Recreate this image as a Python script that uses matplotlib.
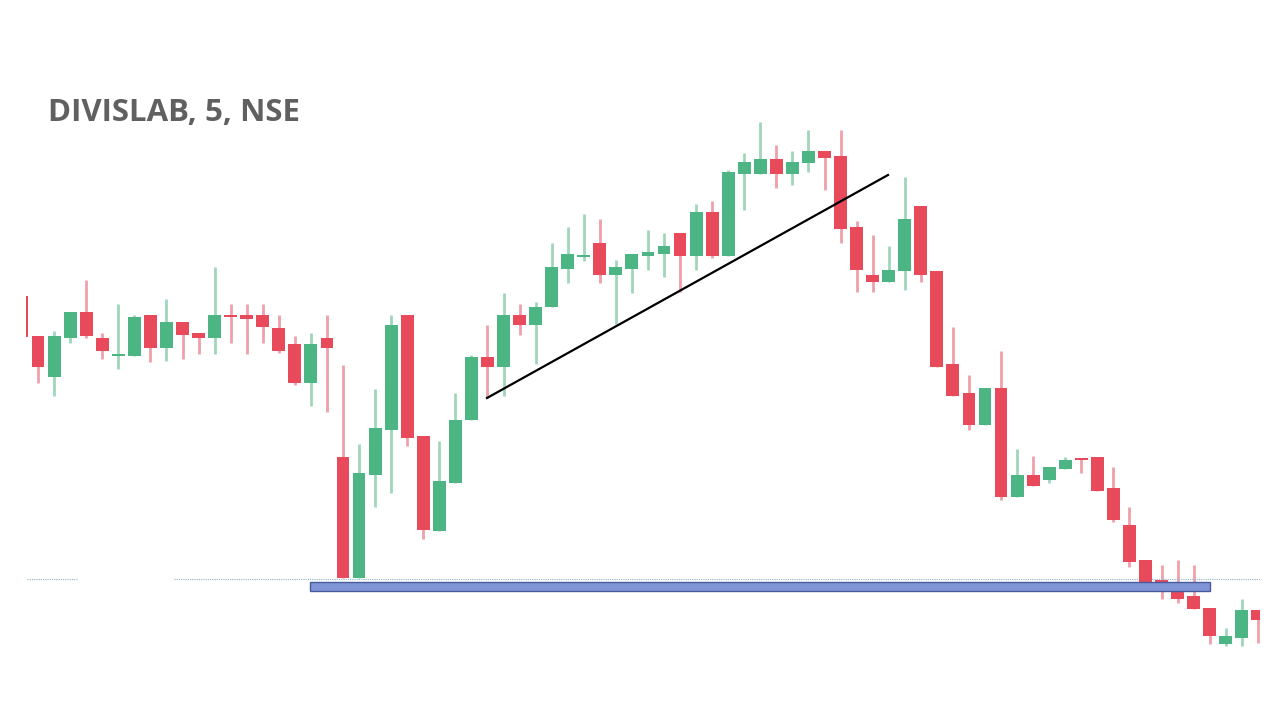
import matplotlib
matplotlib.use("Agg")
import matplotlib.pyplot as plt
from matplotlib.patches import Rectangle

opens = [424,384,343,382,408,382,364,364,405,372,398,387,382,405,405,405,392,376,337,382,
         263,142,245,290,405,284,189,237,300,363,353,405,395,413,451,463,477,445,451,464,
         466,487,464,508,464,546,546,561,546,557,569,564,493,445,438,449,514,449,356,327,
         295,332,223,245,240,251,262,263,232,195,160,140,134,124,112,76,82,110]
highs = [424,384,389,408,440,387,416,405,405,421,398,387,453,416,416,416,405,384,387,405,
         355,276,331,405,405,284,279,327,365,395,427,416,418,477,493,506,501,460,466,490,
         487,487,516,519,550,567,598,575,569,590,569,590,499,485,474,543,514,449,393,345,
         332,369,271,264,253,263,262,263,253,213,160,155,160,155,112,92,121,110]
lows = [383,337,324,377,382,361,351,364,358,359,361,366,366,377,366,377,367,335,314,308,
        142,142,213,227,274,181,189,237,300,322,324,385,356,413,437,459,437,396,427,450,
        443,428,450,462,464,510,546,532,535,548,530,477,428,428,438,430,438,353,324,290,
        295,220,223,234,237,251,247,229,198,153,134,121,117,111,76,74,74,77]
closes = [383,353,384,408,384,369,366,403,372,398,385,382,405,403,401,393,369,337,376,372,
          142,247,292,395,282,190,239,300,363,353,405,395,413,453,466,465,445,453,466,468,
          474,464,508,464,548,558,561,546,558,569,562,491,450,438,450,501,445,353,324,295,
          332,223,245,234,253,260,260,229,200,158,136,132,121,111,84,84,110,100]

GREEN = "#4cb583"
RED = "#e84a5c"
GREEN_W = "#9fd6bb"
RED_W = "#f0a0ab"

fig = plt.figure(figsize=(12.8, 7.2), dpi=100)
left_px, right_px = 26.0, 1260.0
ax = fig.add_axes([left_px / 1280, 0, (right_px - left_px) / 1280, 1])
step = 16.05
x0 = 22.0
ax.set_xlim((left_px - x0) / step, (right_px - x0) / step)
ax.set_ylim(0, 720)
ax.axis("off")

def xi(px):
    return (px - x0) / step

for i, (o, h, l, c) in enumerate(zip(opens, highs, lows, closes)):
    up = c >= o
    ax.vlines(i, l, h, color=GREEN_W if up else RED_W, lw=2, zorder=2)
    b = min(o, c)
    hgt = max(abs(c - o), 2)
    ax.bar(i, hgt, bottom=b, width=0.8, color=GREEN if up else RED, zorder=3, linewidth=0)

# support zone
ax.add_patch(Rectangle((xi(310), 129), xi(1210) - xi(310), 9, facecolor="#7f95d6",
                       edgecolor="#4a5a9a", lw=1, zorder=4))
ax.hlines(141, xi(27), xi(77), colors="#8fb8c0", linestyles=(0, (1, 1)), lw=0.8)
ax.hlines(141, xi(174), xi(1260), colors="#8fb8c0", linestyles=(0, (1, 1)), lw=0.8)
# trend line
ax.plot([xi(487), xi(888)], [322, 545], color="black", lw=1.6, zorder=5)

fig.text(48 / 1280, 1 - 113 / 720, "DIVISLAB, 5, NSE", fontsize=22.5, fontweight="bold",
         color="#606060", va="center", ha="left", family="Open Sans")
fig.savefig("out.png", dpi=100)
